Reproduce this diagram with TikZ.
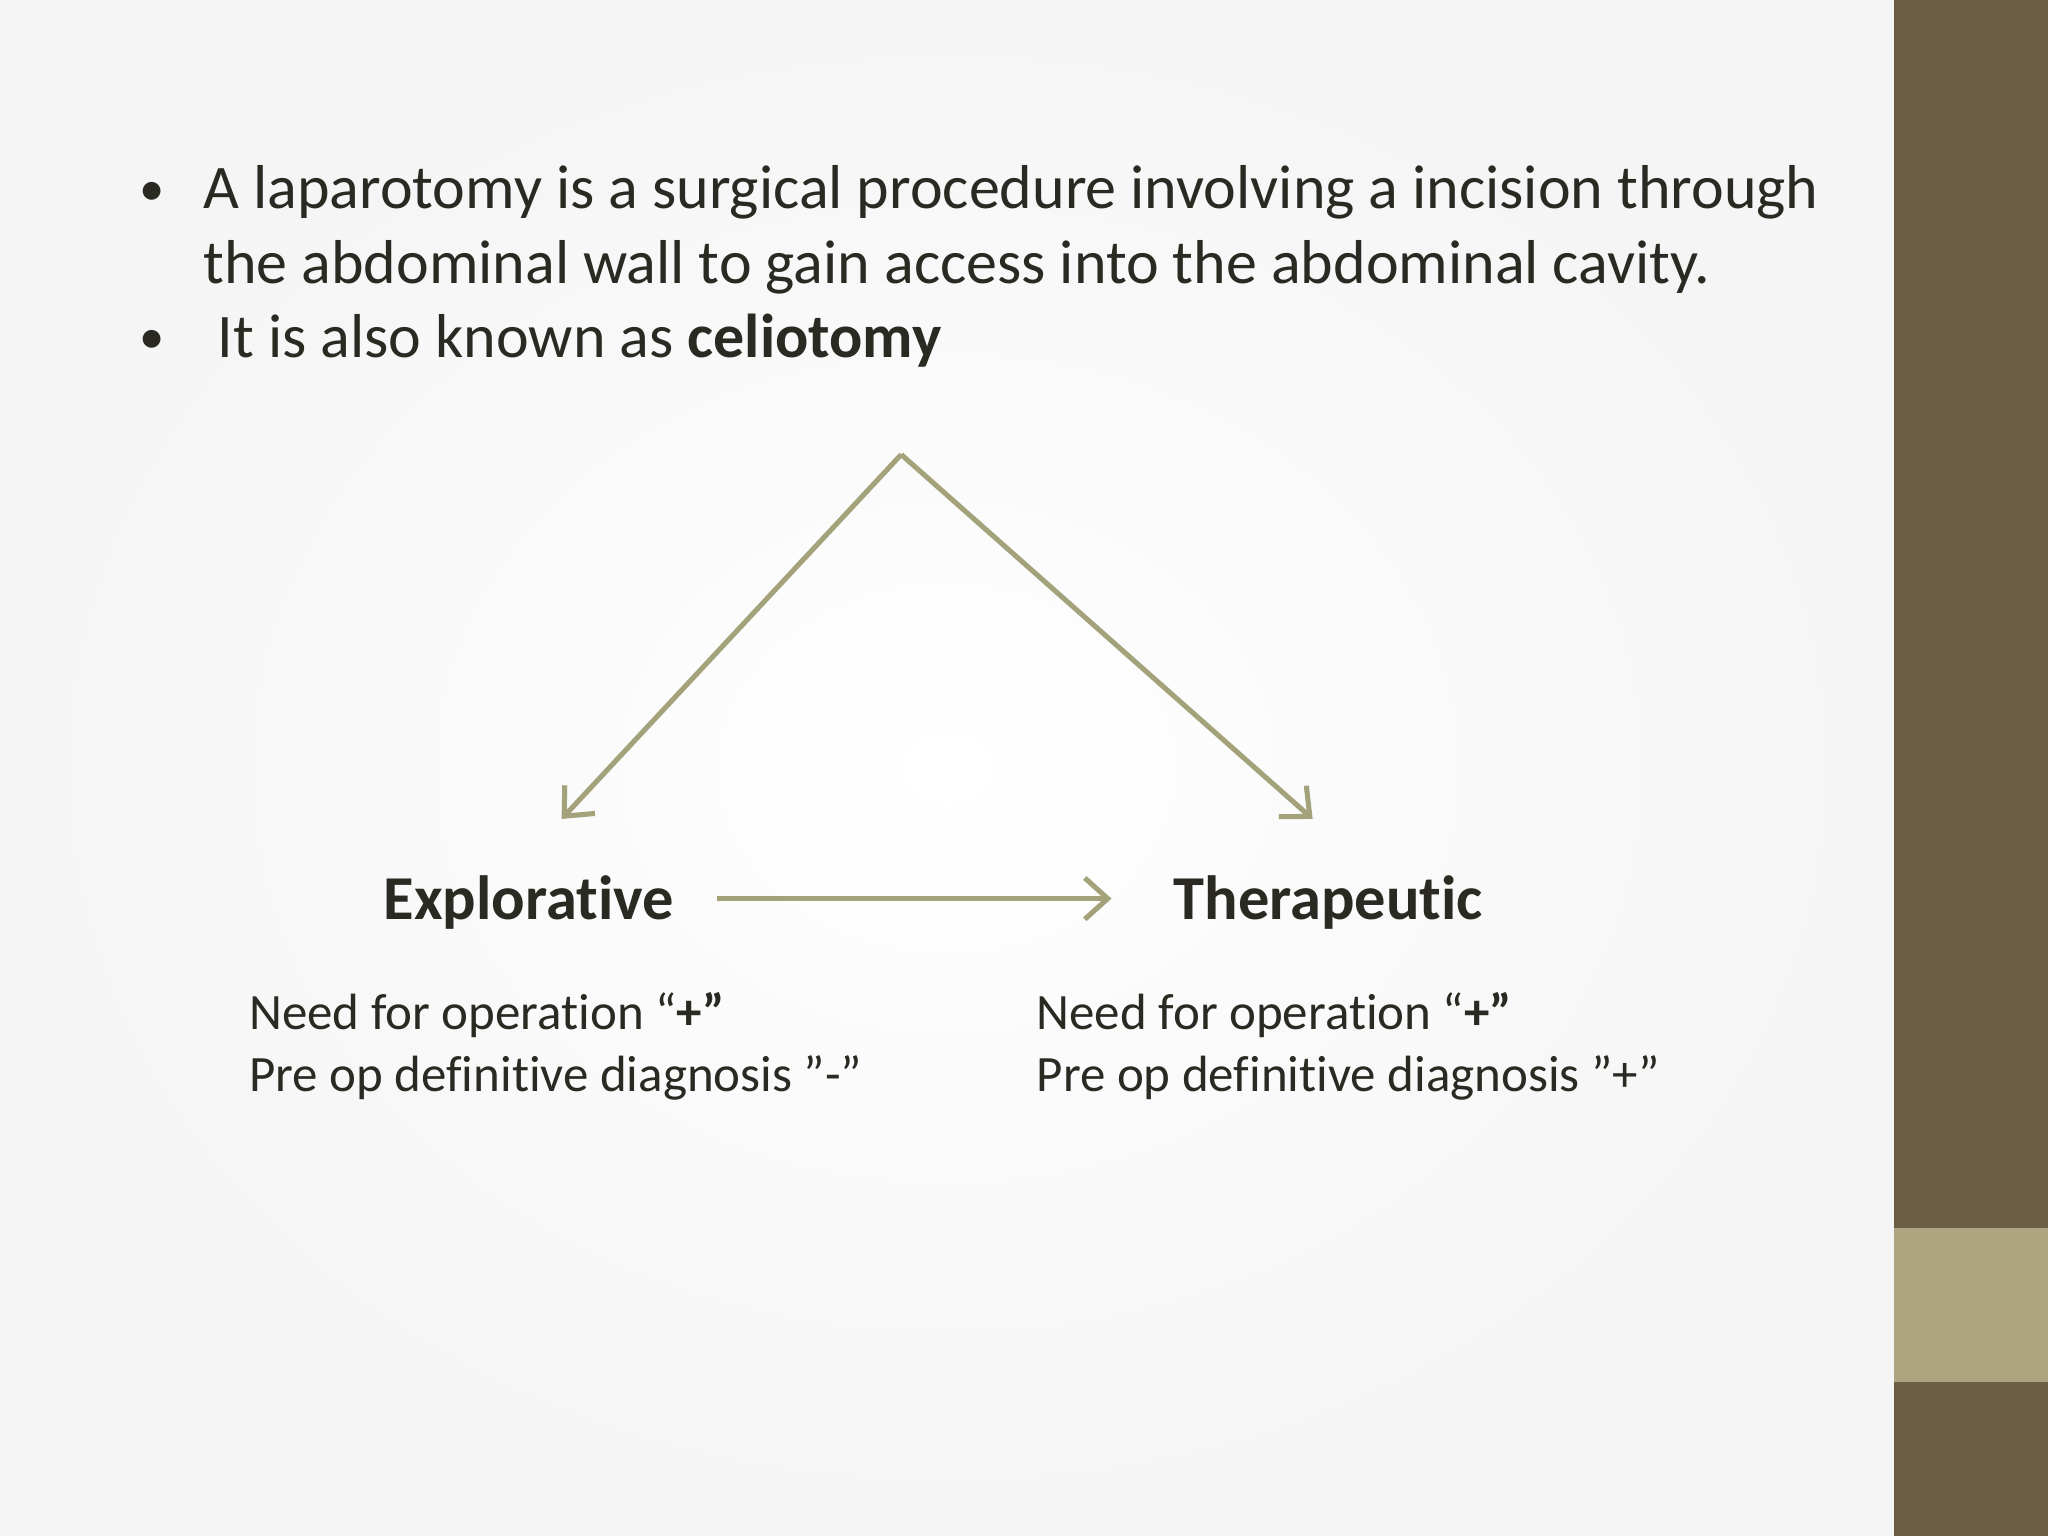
\documentclass[tikz,border=0pt]{standalone}
\usepackage{fontspec}
\setmainfont[RawFeature={-liga}]{Carlito}
\usetikzlibrary{arrows.meta}
\definecolor{bar}{HTML}{6B5E45}
\definecolor{barl}{HTML}{ADA57F}
\definecolor{arr}{HTML}{A3A27A}
\definecolor{txt}{HTML}{2A2A22}
\begin{document}
\begin{tikzpicture}[x=0.01cm,y=-0.01cm,
  body/.style={anchor=base west,inner sep=0pt,text=txt,font=\fontsize{13.5pt}{16pt}\selectfont},
  bul/.style={anchor=base west,inner sep=0pt,text=txt,font=\fontsize{11pt}{13pt}\selectfont},
  head/.style={anchor=base west,inner sep=0pt,text=txt,font=\fontsize{13.6pt}{17pt}\selectfont\bfseries},
  sub/.style={anchor=base west,inner sep=0pt,text=txt,align=left,font=\fontsize{11.1pt}{13.6pt}\selectfont},
  conn/.style={draw=arr,line width=1.1pt,-{Straight Barb[length=5pt,width=9pt]}}]
\useasboundingbox (0,0) rectangle (1568,1176);
\shade[inner color=white,outer color=gray!8] (0,0) rectangle (1450,1176);
\fill[bar] (1450,0) rectangle (1568,1176);
\fill[barl] (1450,940) rectangle (1568,1058);
\node[bul] (b1) at (106,157) {•};
\node[body] (l1) at (155,160) {A laparotomy is a surgical procedure involving a incision through};
\node[body] (l2) at (155,217) {the abdominal wall to gain access into the abdominal cavity.};
\node[bul] (b2) at (106,271) {•};
\node[body] (l3) at (166,274) {It is also known as \textbf{celiotomy}};
\coordinate (apex) at (690,348);
\coordinate (le) at (430,627);
\coordinate (re) at (1005,627);
\draw[conn] (apex) -- (le);
\draw[conn] (apex) -- (re);
\node[head] (ex) at (293,704) {Explorative};
\node[head] (th) at (898,704) {Therapeutic};
\coordinate (hs) at (549,688);
\coordinate (he) at (851,688);
\draw[conn] (hs) -- (he);
\node[sub] (e1) at (190,788) {Need for operation “\textbf{+”}};
\node[sub] (e2) at (190,836) {Pre op definitive diagnosis ”-”};
\node[sub] (t1) at (793,788) {Need for operation “\textbf{+”}};
\node[sub] (t2) at (793,836) {Pre op definitive diagnosis ”+”};
\end{tikzpicture}
\end{document}
